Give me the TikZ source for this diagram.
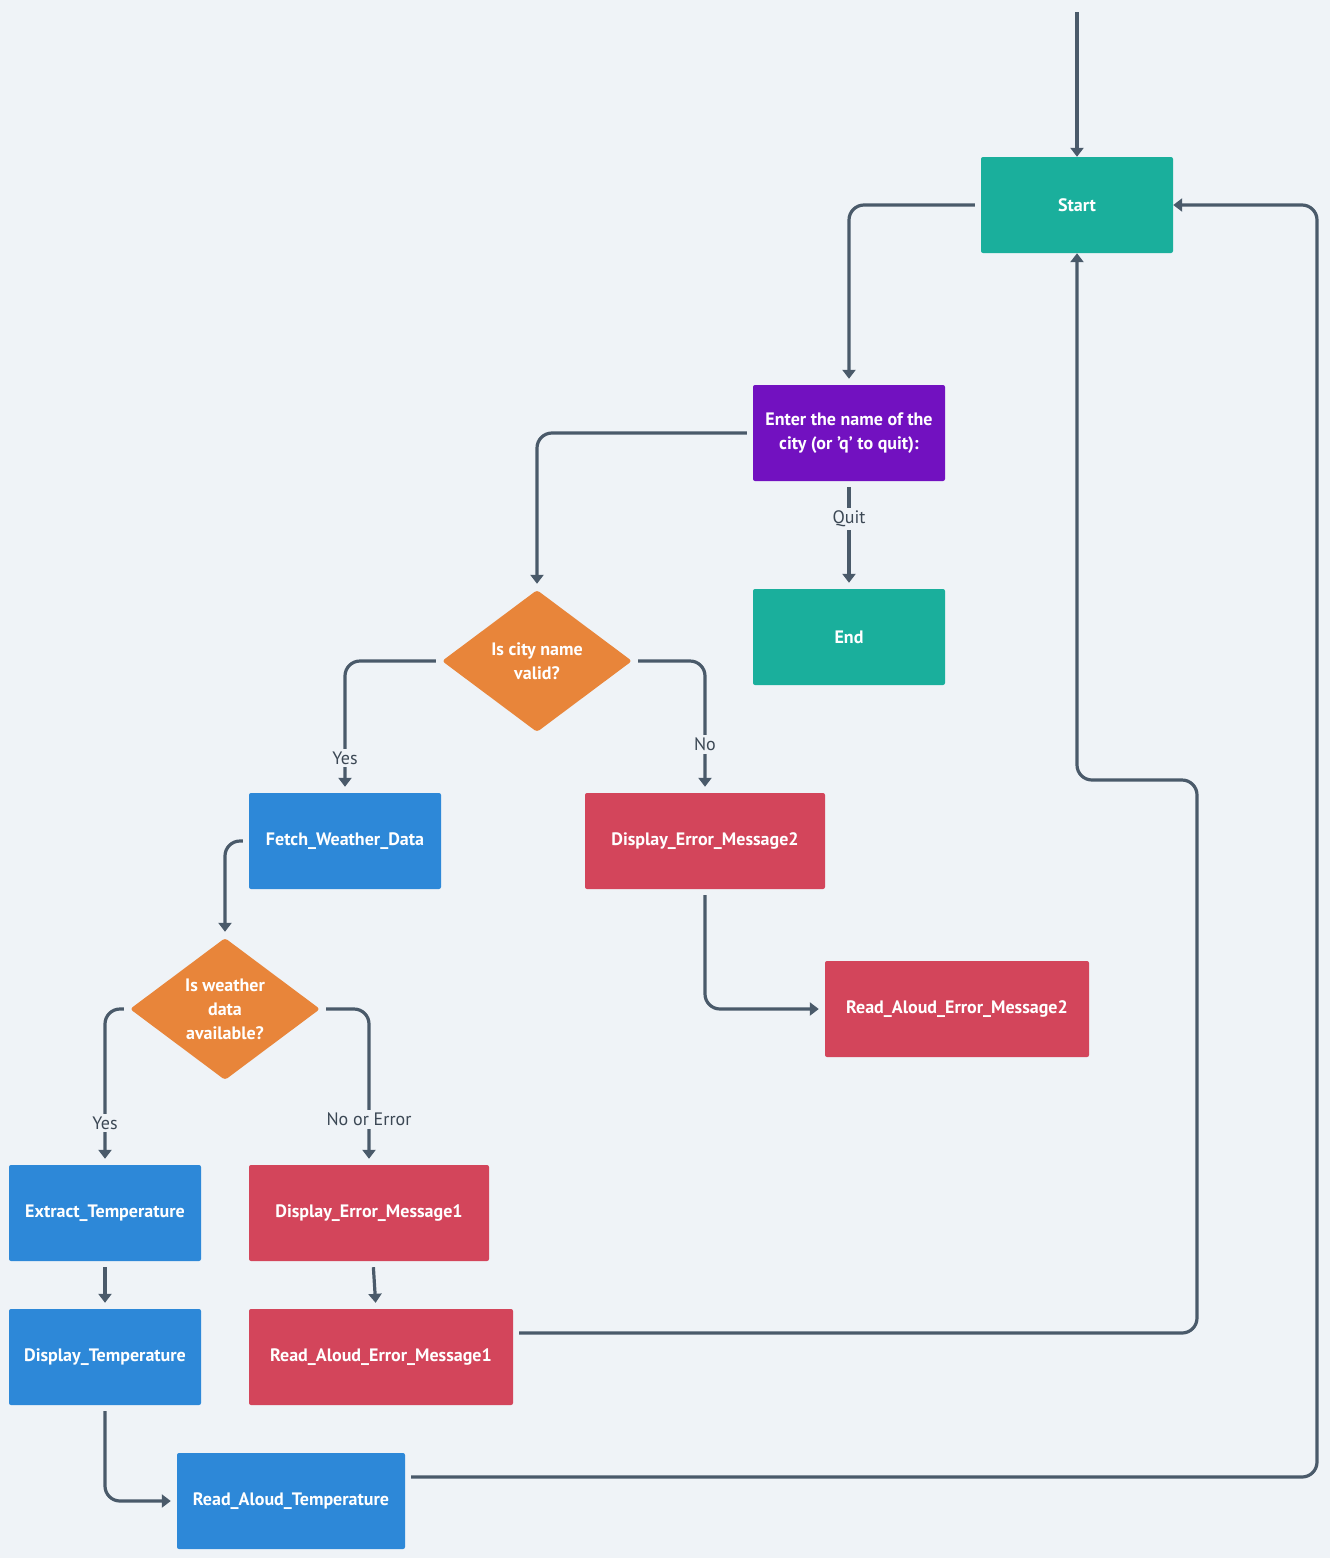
\documentclass[tikz,border=0pt]{standalone}
\usepackage{fontspec}
\setmainfont{PT Sans}
\usetikzlibrary{shapes.geometric,arrows.meta,calc}
\definecolor{bgc}{HTML}{EFF3F7}
\definecolor{teal}{HTML}{1AAF9C}
\definecolor{purp}{HTML}{7211C0}
\definecolor{oran}{HTML}{E8853A}
\definecolor{blu}{HTML}{2D88D8}
\definecolor{redd}{HTML}{D3455B}
\definecolor{linec}{HTML}{4A5A6A}
\definecolor{labc}{HTML}{3B4754}
\tikzset{
  box/.style={rectangle, rounded corners=2pt, minimum width=192pt, minimum height=96pt, inner sep=4pt,
    text=white, font=\fontsize{18}{24}\selectfont\bfseries, align=center},
  dia/.style={diamond, rounded corners=3pt, minimum width=190pt, minimum height=142pt, aspect=1.34, inner sep=0pt,
    text=white, font=\fontsize{18}{24}\selectfont\bfseries, align=center, fill=oran},
  conn/.style={draw=linec, line width=3.2pt, rounded corners=15pt, -{Triangle[width=13pt,length=9pt]},
    shorten <=6pt, shorten >=6pt},
  lab/.style={fill=bgc, text=labc, font=\fontsize{18}{20}\selectfont, inner sep=3pt}
}
\begin{document}
\begin{tikzpicture}[x=1pt,y=-1pt]
\fill[bgc] (0,0) rectangle (1330,1558);
\useasboundingbox (0,0) rectangle (1330,1558);

\node[box, fill=teal] (start) at (1077,205) {Start};
\node[box, fill=purp] (enter) at (849,433) {Enter the name of the\\city (or 'q' to quit):};
\node[box, fill=teal] (end) at (849,637) {End};
\node[dia] (d1) at (537,661) {Is city name\\valid?};
\node[box, fill=blu] (fetch) at (345,841) {Fetch\_Weather\_Data};
\node[box, fill=redd, minimum width=240pt] (de2) at (705,841) {Display\_Error\_Message2};
\node[box, fill=redd, minimum width=264pt] (re2) at (957,1009) {Read\_Aloud\_Error\_Message2};
\node[dia] (d2) at (225,1009) {Is weather\\data\\available?};
\node[box, fill=blu] (ext) at (105,1213) {Extract\_Temperature};
\node[box, fill=redd, minimum width=240pt] (de1) at (369,1213) {Display\_Error\_Message1};
\node[box, fill=blu] (dt) at (105,1357) {Display\_Temperature};
\node[box, fill=redd, minimum width=264pt] (re1) at (381,1357) {Read\_Aloud\_Error\_Message1};
\node[box, fill=blu, minimum width=228pt] (rt) at (291,1501) {Read\_Aloud\_Temperature};

\coordinate (top) at (1077,12);
\coordinate (c1) at (1197,780);
\coordinate (c2) at (1317,205);

\draw[conn, shorten <=0pt, shorten >=0pt] (top) -- (start.north);
\draw[conn] (start.west) -| (enter.north);
\draw[conn] (enter.west) -| (d1.north);
\draw[conn] (enter.south) -- (end.north);
\draw[conn] (d1.west) -| (fetch.north);
\draw[conn] (d1.east) -| (de2.north);
\draw[conn] (fetch.west) -| (d2.north);
\draw[conn] (de2.south) |- (re2.west);
\draw[conn] (d2.west) -| (ext.north);
\draw[conn] (d2.east) -| (de1.north);
\draw[conn] (ext.south) -- (dt.north);
\draw[conn] ([xshift=4pt]de1.south) -- ([xshift=-5pt]re1.north);
\draw[conn] (dt.south) |- (rt.west);
\draw[conn, shorten >=0pt] ([yshift=24pt]re1.east) -| (c1) -| (start.south);
\draw[conn, shorten >=0pt] ([yshift=24pt]rt.east) -| (c2) -- (start.east);

\node[lab] (lquit) at (849,519) {Quit};
\node[lab] (lyes1) at (345,758) {Yes};
\node[lab] (lno1) at (705,744) {No};
\node[lab] (lyes2) at (105,1123) {Yes};
\node[lab] (lno2) at (369,1119) {No or Error};
\end{tikzpicture}
\end{document}
